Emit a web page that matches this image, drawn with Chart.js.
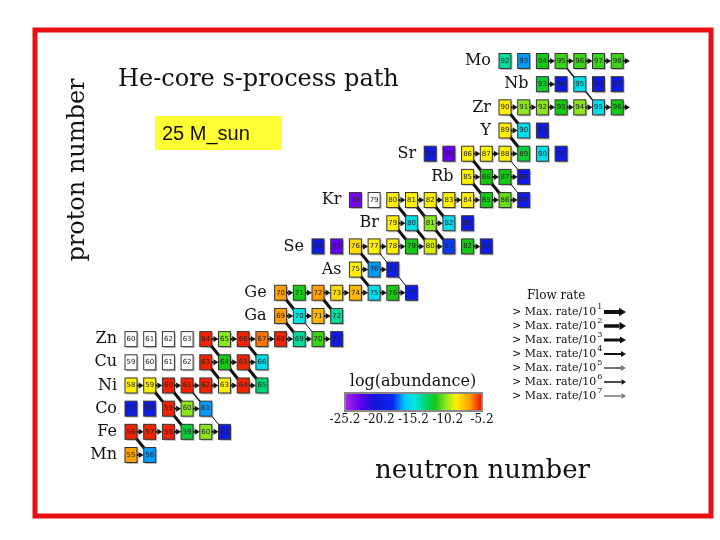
<!DOCTYPE html>
<html><head><meta charset="utf-8">
<script src="https://cdn.jsdelivr.net/npm/chart.js@4"></script>
<style>html,body{margin:0;padding:0;background:#fff}#c{display:block}</style>
</head><body>
<canvas id="c" width="720" height="540"></canvas>
<script>
// ---- data ----
const elementNames = ['Mn','Fe','Co','Ni','Cu','Zn','Ga','Ge','As','Se','Br','Kr','Rb','Sr','Y','Zr','Nb','Mo'];
const protonNumbers = [25,26,27,28,29,30,31,32,33,34,35,36,37,38,39,40,41,42];
const firstNeutron = [30,30,30,30,30,30,38,38,42,40,44,42,48,46,50,50,52,50];
const logAbundance = [
  [-7,-17],
  [-5.5,-5.5,-5.5,-12.5,-10.5,-20],
  [-20,-20,-5.5,-10.5,-17],
  [-9,-9,-5.5,-5.5,-5.5,-9,-5.5,-13.5],
  [null,null,null,null,-5.5,-12,-5.5,-15.5],
  [null,null,null,null,-5.5,-10.5,-5.5,-6.5,-5.5,-14,-11.5,-20],
  [-7,-15,-7.5,-14],
  [-7,-12,-7,-8.5,-7.5,-15.5,-12,-20],
  [-9,-17,-19.5],
  [-20,-23,-8.5,-9,-9,-12,-9.5,-18,-12,-20],
  [-9,-15.5,-10.5,-15.5,-20],
  [-23.5,null,-9,-9,-9,-9,-9,-12,-11,-20],
  [-9,-12,-12,-20],
  [-20,-23,-9,-9,-9,-12.5,-15.5,-20],
  [-9,-15.5,-20],
  [-9,-10.5,-10.5,-12,-10.5,-15.5,-12],
  [-12.5,-20,-15.5,-20,-20],
  [-14,-17,-12,-11.5,-11.5,-11.5,-11.5]
];
// neutron-capture flows: [N from, Z] -> N+1
const captureFlows = [[30,25],[30,26],[31,26],[32,26],[33,26],[34,26],[32,27],[33,27],
 [30,28],[31,28],[32,28],[33,28],[34,28],[35,28],[36,28],[34,29],[35,29],[36,29],
 [34,30],[35,30],[36,30],[37,30],[38,30],[39,30],[40,30],[38,31],[39,31],[40,31],
 [38,32],[39,32],[40,32],[41,32],[42,32],[43,32],[44,32],[42,33],[43,33],
 [42,34],[43,34],[44,34],[45,34],[46,34],[48,34],[44,35],[46,35],
 [44,36],[45,36],[46,36],[47,36],[48,36],[49,36],[50,36],[48,37],[49,37],[50,37],
 [48,38],[49,38],[50,38],[50,39],[50,40],[51,40],[52,40],[53,40],[54,40],[55,40],[56,40],
 [52,41],[52,42],[53,42],[54,42],[55,42],[56,42]];
// beta links: [N, Z] of lower cell, linked to (N-1, Z+1); third = width
const betaFlows = [[31,25,3],[33,26,3],[35,26,1],[32,27,3],[33,27,3],[34,27,1.5],
 [35,28,3],[36,28,3],[37,28,3],[35,29,3],[37,29,3],[39,30,3],[40,30,1],
 [39,31,3],[41,31,3],[43,32,3],[45,32,1],[43,33,3],[44,33,1],
 [45,34,3],[46,34,3],[47,34,3],[45,35,3],[46,35,3],[47,35,3],
 [49,36,3],[50,36,3],[51,36,1],[49,37,3],[51,37,1],[51,38,3],[51,39,3],[55,40,1.5],[54,41,1.5]];
const colorbarTicks = [-25.2,-20.2,-15.2,-10.2,-5.2];
const flowLegend = [1,2,3,4,5,6,7];

// ---- colormap ----
const stops = [[-25.2,[170,40,230]],[-23,[100,0,240]],[-21,[20,20,220]],[-18.2,[10,40,240]],[-16.5,[0,200,255]],
 [-15,[0,230,220]],[-13.5,[0,210,120]],[-12,[20,200,20]],[-10.5,[140,230,30]],[-9,[255,240,0]],[-7,[255,160,0]],[-5.2,[240,10,0]]];
function cmap(v){
  if(v<=stops[0][0]) return 'rgb('+stops[0][1]+')';
  for(let i=1;i<stops.length;i++){ if(v<=stops[i][0]){const a=stops[i-1],b=stops[i],t=(v-a[0])/(b[0]-a[0]);
    return 'rgb('+a[1].map((c,k)=>Math.round(c+(b[1][k]-c)*t)).join(',')+')';}}
  return 'rgb('+stops[stops.length-1][1]+')';
}
const cells=[];
protonNumbers.forEach((z,i)=>logAbundance[i].forEach((v,j)=>cells.push({x:firstNeutron[i]+j,y:z,v:v})));

const serif='"DejaVu Serif","Liberation Serif",serif';
function arrow(ctx,x1,y1,x2,y2,w,col){
  ctx.strokeStyle=col;ctx.fillStyle=col;ctx.lineWidth=w;
  const ang=Math.atan2(y2-y1,x2-x1),h=3+w;
  ctx.beginPath();ctx.moveTo(x1,y1);ctx.lineTo(x2-h*Math.cos(ang),y2-h*Math.sin(ang));ctx.stroke();
  ctx.beginPath();ctx.moveTo(x2,y2);
  ctx.lineTo(x2-h*Math.cos(ang)+(h*0.6)*Math.sin(ang),y2-h*Math.sin(ang)-(h*0.6)*Math.cos(ang));
  ctx.lineTo(x2-h*Math.cos(ang)-(h*0.6)*Math.sin(ang),y2-h*Math.sin(ang)+(h*0.6)*Math.cos(ang));
  ctx.closePath();ctx.fill();
}
const drawPlugin={id:'nuc',
 beforeDraw(chart){const c=chart.ctx;c.save();c.fillStyle='#fff';c.fillRect(0,0,720,540);
   c.strokeStyle='#e81010';c.lineWidth=5;c.strokeRect(35,30,676,486);c.restore();},
 afterDatasetsDraw(chart){
  const c=chart.ctx,xs=chart.scales.x,ys=chart.scales.y;
  const px=n=>xs.getPixelForValue(n),py=z=>ys.getPixelForValue(z);
  const W=12,H=15;
  c.save();
  betaFlows.forEach(([n,z,w])=>{c.strokeStyle='#111';c.lineWidth=w;c.beginPath();
    c.moveTo(px(n-1),py(z+1));c.lineTo(px(n),py(z));c.stroke();});
  cells.forEach(p=>{const x=px(p.x),y=py(p.y);
    c.fillStyle='rgba(0,0,0,0.25)';c.fillRect(x-W/2+1.5,y-H/2+1.5,W,H);
    c.fillStyle=p.v===null?'#fff':cmap(p.v);c.fillRect(x-W/2,y-H/2,W,H);
    c.strokeStyle='#333';c.lineWidth=1;c.strokeRect(x-W/2,y-H/2,W,H);
    c.fillStyle='#222';c.font='7px "DejaVu Sans"';c.textAlign='center';c.textBaseline='middle';
    c.fillText(String((p.x+p.y)%100).padStart(2,'0'),x,y);});
  captureFlows.forEach(([n,z])=>arrow(c,px(n)+W/2,py(z),px(n+1)-W/2,py(z),2,'#111'));
  c.fillStyle='#111';c.font='16px '+serif;c.textAlign='right';c.textBaseline='middle';
  protonNumbers.forEach((z,i)=>c.fillText(elementNames[i],px(firstNeutron[i])-14,py(z)));
  // colorbar
  const g=c.createLinearGradient(345,0,482,0);
  stops.forEach(s=>g.addColorStop((s[0]+25.2)/20,'rgb('+s[1]+')'));
  c.fillStyle=g;c.fillRect(345,393,137,18);c.strokeStyle='#888';c.strokeRect(345,393,137,18);
  c.fillStyle='#111';c.font='16px '+serif;c.textAlign='center';c.fillText('log(abundance)',413,382);
  c.font='12px '+serif;
  colorbarTicks.forEach(t=>c.fillText(t.toFixed(1),345+(t+25.2)/20*137,420));
  // flow legend
  c.textAlign='left';c.font='12px '+serif;c.fillText('Flow rate',527,296);
  flowLegend.forEach((k,i)=>{const y=312+i*14;c.fillStyle='#111';c.font='11px '+serif;
    c.fillText('> Max. rate/10',512,y);const tw=c.measureText('> Max. rate/10').width;
    c.font='8px '+serif;c.fillText(String(k),513+tw,y-5);
    arrow(c,604,y,626,y,[4,3.5,3,2,2,1.5,1.5][i],(i==4||i==6)?'#777':'#111');});
  // titles
  c.fillStyle='#111';
  c.font='24px '+serif;c.fillText('He-core s-process path',118,80);
  c.font='26px '+serif;c.fillText('neutron number',375,471);
  c.fillStyle='#ffff33';c.fillRect(155,116,127,34);
  c.fillStyle='#111';c.font='20px "Liberation Sans","Open Sans",sans-serif';c.fillText('25 M_sun',162,134);
  c.save();c.translate(78,170);c.rotate(-Math.PI/2);c.font='24px '+serif;c.textAlign='center';
  c.fillText('proton number',0,0);c.restore();
  c.restore();
 }};
new Chart(document.getElementById('c'),{
 type:'scatter',
 data:{datasets:[{data:cells,pointRadius:0,showLine:false}]},
 options:{responsive:false,animation:false,events:[],
  layout:{padding:{left:20,right:20,top:20,bottom:20}},
  plugins:{legend:{display:false},tooltip:{enabled:false}},
  scales:{x:{type:'linear',display:false,min:30-111/18.7,max:30+569/18.7},
          y:{type:'linear',display:false,min:25-65/23.18,max:42+41/23.18}}},
 plugins:[drawPlugin]});
</script>
</body></html>
